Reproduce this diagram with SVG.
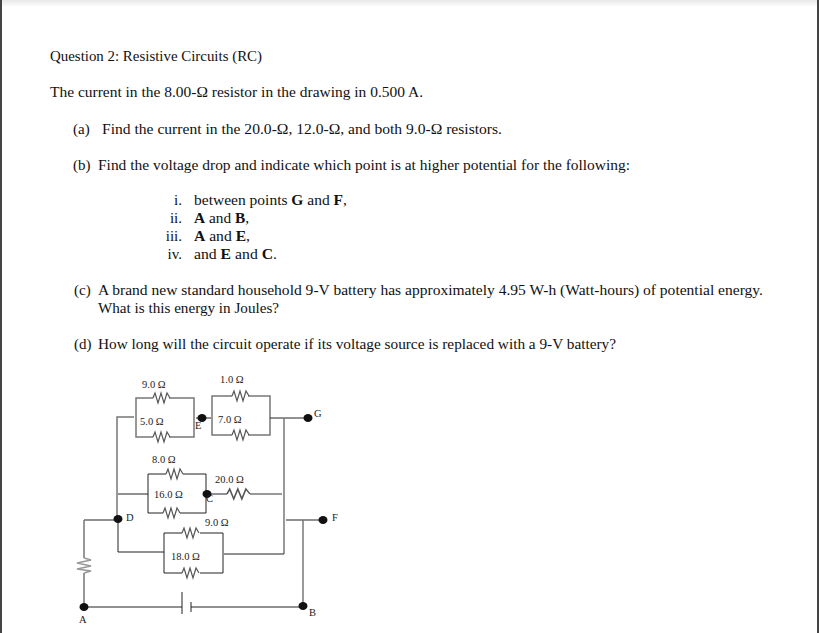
<svg xmlns="http://www.w3.org/2000/svg" width="819" height="633" viewBox="0 0 819 633">
<style>
.t{font-family:"Liberation Serif","Times New Roman",serif;font-size:15px;fill:#111}
.b{font-weight:bold}
.l{font-family:"Liberation Serif","Times New Roman",serif;font-size:10.5px;fill:#222}
.w{fill:none;stroke:#222;stroke-width:1}
.g{fill:none;stroke:#777;stroke-width:1.5}
.r{fill:none;stroke:#555;stroke-width:1.2}
.s{fill:none;stroke:#999;stroke-width:1.5}
.d{fill:#111}
</style>
<defs>
<linearGradient id="top" x1="0" y1="0" x2="0" y2="1"><stop offset="0" stop-color="#e8e8e8"/><stop offset="1" stop-color="#fff"/></linearGradient>
<path id="zz" d="M0 0L2 -5L5 5L8 -5L11 5L14 -5L17 0"/>
</defs>
<rect width="819" height="633" fill="#fff"/>
<rect width="819" height="7" fill="url(#top)"/>
<rect x="0" y="0" width="2" height="633" fill="#444"/>
<rect x="817" y="0" width="2" height="633" fill="#444"/>

<g id="question">
<text class="t" x="50" y="61" textLength="212" lengthAdjust="spacingAndGlyphs">Question 2: Resistive Circuits (RC)</text>
<text class="t" x="50" y="97" textLength="373" lengthAdjust="spacingAndGlyphs">The current in the 8.00-Ω resistor in the drawing in 0.500 A.</text>
<text class="t" x="73" y="134">(a)</text>
<text class="t" x="102" y="134" textLength="400" lengthAdjust="spacingAndGlyphs">Find the current in the 20.0-Ω, 12.0-Ω, and both 9.0-Ω resistors.</text>
<text class="t" x="73" y="169.500">(b)</text>
<text class="t" x="98" y="169.500" textLength="532" lengthAdjust="spacingAndGlyphs">Find the voltage drop and indicate which point is at higher potential for the following:</text>
<text class="t" x="182" y="205" text-anchor="end">i.</text>
<text class="t" x="194" y="205" textLength="153" lengthAdjust="spacingAndGlyphs">between points <tspan class="b">G</tspan> and <tspan class="b">F</tspan>,</text>
<text class="t" x="182" y="223" text-anchor="end">ii.</text>
<text class="t" x="194" y="223" textLength="55" lengthAdjust="spacingAndGlyphs"><tspan class="b">A</tspan> and <tspan class="b">B</tspan>,</text>
<text class="t" x="182" y="241" text-anchor="end">iii.</text>
<text class="t" x="194" y="241" textLength="56" lengthAdjust="spacingAndGlyphs"><tspan class="b">A</tspan> and <tspan class="b">E</tspan>,</text>
<text class="t" x="182" y="259" text-anchor="end">iv.</text>
<text class="t" x="194" y="259" textLength="83" lengthAdjust="spacingAndGlyphs">and <tspan class="b">E</tspan> and <tspan class="b">C</tspan>.</text>
<text class="t" x="74" y="295">(c)</text>
<text class="t" x="98" y="295" textLength="665" lengthAdjust="spacingAndGlyphs">A brand new standard household 9-V battery has approximately 4.95 W-h (Watt-hours) of potential energy.</text>
<text class="t" x="98" y="313" textLength="181" lengthAdjust="spacingAndGlyphs">What is this energy in Joules?</text>
<text class="t" x="74" y="349">(d)</text>
<text class="t" x="98" y="349" textLength="518" lengthAdjust="spacingAndGlyphs">How long will the circuit operate if its voltage source is replaced with a 9-V battery?</text>
</g>

<g id="connectors">
<path class="g" d="M134 417H117V519"/>
<path class="g" d="M153 398H136V437H153M169 398H194V437H169"/>
<path class="w" d="M196 418H211"/>
<path class="g" d="M232 396H212V435H232M248 396H270V435H248"/>
<path class="w" d="M270 418H308"/>
<path class="g" d="M284 418V554"/>
<path class="w" d="M166 474H148V513H163M183 474H206V513H180"/>
<path class="w" d="M118 494H148"/>
<path class="w" d="M207 494H227"/>
<path class="g" d="M250 494H282"/>
<path class="w" d="M118 519V552H164"/>
<path class="w" d="M182 533H164V573H182M200 533H223V573H200"/>
<path class="w" d="M224 554H284"/>
<path class="w" d="M118 520H84"/>
<path class="g" d="M84 520V558M84 573V607"/>
<path class="w" d="M84 607H182M191 607H303"/>
<path class="w" d="M182 592V614M191 602V612"/>
<path class="w" d="M286 520H323"/>
<path class="g" d="M303 520V606"/>
</g>

<g id="R-9a"><use href="#zz" x="153" y="398" class="r"/><text class="l" x="142" y="388">9.0 Ω</text></g>
<g id="R-5"><use href="#zz" x="153" y="437" class="r"/><text class="l" x="140" y="425">5.0 Ω</text></g>
<g id="R-1"><use href="#zz" x="232" y="396" class="r"/><text class="l" x="220" y="383">1.0 Ω</text></g>
<g id="R-7"><use href="#zz" x="232" y="435" class="r"/><text class="l" x="218" y="423">7.0 Ω</text></g>
<g id="R-8"><use href="#zz" x="166" y="474" class="r"/><text class="l" x="152" y="463">8.0 Ω</text></g>
<g id="R-16"><use href="#zz" x="163" y="513" class="r"/><text class="l" x="154" y="498">16.0 Ω</text></g>
<g id="R-20"><use href="#zz" transform="translate(227 494) scale(1.35 1)" class="r"/><text class="l" x="215" y="483">20.0 Ω</text></g>
<g id="R-9b"><use href="#zz" x="182" y="533" class="r"/><text class="l" x="205" y="526">9.0 Ω</text></g>
<g id="R-18"><use href="#zz" x="182" y="573" class="r"/><text class="l" x="171" y="560">18.0 Ω</text></g>
<g id="R-source"><path class="s" d="M84 558L91 560L77 563L91 566L77 569L91 571L84 573"/></g>

<g id="node-E"><ellipse class="d" cx="202" cy="418" rx="4.500" ry="4"/><text class="l" x="195" y="429">E</text></g>
<g id="node-G"><ellipse class="d" cx="308" cy="418" rx="4.500" ry="4"/><text class="l" x="314" y="417">G</text></g>
<g id="node-C"><ellipse class="d" cx="207" cy="494" rx="4.500" ry="4"/><text class="l" x="206" y="502">C</text></g>
<g id="node-D"><ellipse class="d" cx="118" cy="519" rx="4.500" ry="4"/><text class="l" x="126" y="521">D</text></g>
<g id="node-F"><ellipse class="d" cx="323" cy="520" rx="4.500" ry="4"/><text class="l" x="332" y="521">F</text></g>
<g id="node-A"><ellipse class="d" cx="84" cy="607" rx="4.500" ry="4"/><text class="l" x="79" y="623">A</text></g>
<g id="node-B"><ellipse class="d" cx="303" cy="606" rx="4.500" ry="4"/><text class="l" x="309" y="616">B</text></g>
</svg>
